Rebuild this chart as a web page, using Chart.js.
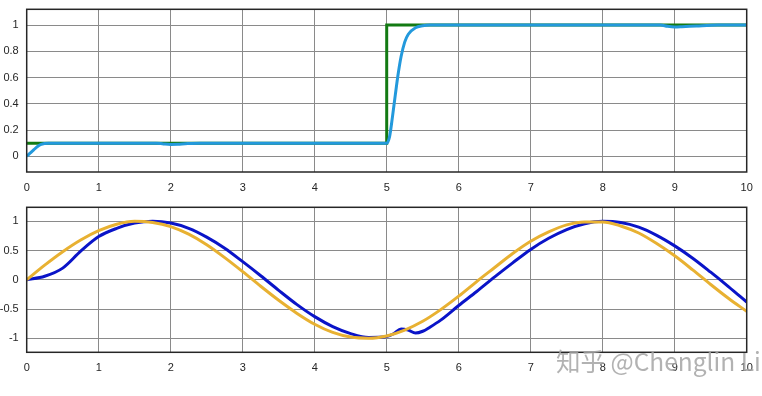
<!DOCTYPE html>
<html>
<head>
<meta charset="utf-8">
<script src="https://cdn.jsdelivr.net/npm/chart.js@4/dist/chart.umd.min.js"></script>
<style>
  body { margin: 0; background: #fff; width: 762px; height: 396px; overflow: hidden; position: relative; }
  .box { position: absolute; left: 0; width: 762px; }
  #watermark {
    position: absolute; left: 556px; top: 343px;
    font-family: "Noto Sans CJK SC", "Noto Sans", sans-serif; font-size: 24.5px;
    color: rgba(165, 165, 165, 0.85); white-space: nowrap;
  }
</style>
</head>
<body>
<div class="box" style="top:0;height:196px"><canvas id="topChart"></canvas></div>
<div class="box" style="top:196px;height:200px"><canvas id="bottomChart"></canvas></div>
<div id="watermark">知乎 @Chenglin Li</div>
<script>
// ---- top plot: step reference and response ----
const stepTime = [0, 5, 5, 10];
const stepValue = [0.1, 0.1, 1, 1];

const respTime = [0, 0.05, 0.1, 0.15, 0.2, 0.25, 0.3, 0.4,
    1.8, 1.9, 2.0, 2.1, 2.2, 2.4,
    4.95, 5.0, 5.04, 5.08, 5.12, 5.16, 5.2, 5.25, 5.3, 5.4, 5.5, 5.6, 5.8,
    8.8, 8.9, 9.0, 9.1, 9.3, 9.6, 10];
const respValue = [0, 0.025, 0.05, 0.074, 0.09, 0.097, 0.1, 0.1,
    0.1, 0.094, 0.09, 0.091, 0.095, 0.1,
    0.1, 0.1, 0.15, 0.3, 0.47, 0.63, 0.76, 0.87, 0.93, 0.98, 0.995, 1.0, 1.0,
    1.0, 0.99, 0.985, 0.987, 0.993, 1.0, 1.0];

// ---- bottom plot: sine reference and tracking ----
const sineTime = [0, 0.25, 0.5, 0.75, 1, 1.25, 1.5, 1.75, 2, 2.25, 2.5, 2.75, 3, 3.25, 3.5, 3.75,
    4, 4.25, 4.5, 4.75, 5, 5.25, 5.5, 5.75, 6, 6.25, 6.5, 6.75, 7, 7.25, 7.5, 7.75,
    8, 8.25, 8.5, 8.75, 9, 9.25, 9.5, 9.75, 10];
const sineValue = [0, 0.25, 0.48, 0.68, 0.84, 0.95, 1.0, 0.98, 0.91, 0.78, 0.6, 0.38, 0.14, -0.11, -0.35, -0.57,
    -0.76, -0.9, -0.98, -1.0, -0.96, -0.86, -0.71, -0.51, -0.28, -0.03, 0.21, 0.45, 0.66, 0.82, 0.94, 0.99,
    0.99, 0.92, 0.8, 0.62, 0.41, 0.17, -0.08, -0.32, -0.54];

const trackTime = [0, 0.25, 0.5, 0.75, 1, 1.25, 1.5, 1.75, 2, 2.25, 2.5, 2.75, 3, 3.25, 3.5, 3.75,
    4, 4.25, 4.5, 4.75, 5, 5.1, 5.2, 5.3, 5.4, 5.5, 5.6, 5.75, 6, 6.25, 6.5, 6.75, 7, 7.25, 7.5, 7.75,
    8, 8.25, 8.5, 8.75, 9, 9.25, 9.5, 9.75, 10];
const trackValue = [0, 0.06, 0.2, 0.49, 0.74, 0.88, 0.97, 1.0, 0.97, 0.88, 0.73, 0.54, 0.31, 0.07, -0.18, -0.42,
    -0.63, -0.8, -0.92, -0.985, -0.97, -0.92, -0.84, -0.86, -0.91, -0.88, -0.81, -0.69, -0.44, -0.2, 0.05, 0.29, 0.52, 0.71, 0.86, 0.96,
    1.0, 0.98, 0.9, 0.76, 0.58, 0.37, 0.13, -0.12, -0.38];

// tick labels
const xTicks = [0, 1, 2, 3, 4, 5, 6, 7, 8, 9, 10];
const topYTicks = [0, 0.2, 0.4, 0.6, 0.8, 1];
const bottomYTicks = [-1, -0.5, 0, 0.5, 1];

function toPoints(xs, ys) {
    return xs.map((x, i) => ({ x: x, y: ys[i] }));
}

// black frame round the plot area
const framePlugin = {
    id: "frame",
    afterDraw(chart) {
        const a = chart.chartArea;
        const ctx = chart.ctx;
        ctx.save();
        ctx.strokeStyle = "#262626";
        ctx.lineWidth = 1.5;
        ctx.strokeRect(a.left, a.top, a.right - a.left, a.bottom - a.top);
        ctx.restore();
    }
};

function makeOptions(yMin, yMax, yTicks, topPad, xHeight) {
    const font = { family: "'Liberation Sans', Arial, sans-serif", size: 11 };
    return {
        responsive: true,
        maintainAspectRatio: false,
        animation: false,
        layout: { padding: { top: topPad, right: 15.3, left: 0, bottom: 0 } },
        plugins: { legend: { display: false }, tooltip: { enabled: false } },
        elements: { point: { radius: 0 } },
        scales: {
            x: {
                type: "linear", min: 0, max: 10,
                afterBuildTicks: axis => { axis.ticks = xTicks.map(v => ({ value: v })); },
                afterFit: axis => {
                    axis.height = xHeight;
                    axis.paddingLeft = 0; axis.paddingRight = 0;
                },
                grid: { color: "#8a8a8a", lineWidth: 1, drawTicks: false },
                border: { display: false },
                ticks: { color: "#262626", font: font, padding: 9, maxRotation: 0, callback: v => String(v) }
            },
            y: {
                min: yMin, max: yMax,
                afterBuildTicks: axis => { axis.ticks = yTicks.map(v => ({ value: v })); },
                afterFit: axis => {
                    axis.width = 26.7;
                    axis.paddingTop = 0; axis.paddingBottom = 0;
                },
                grid: { color: "#8a8a8a", lineWidth: 1, drawTicks: false },
                border: { display: false },
                ticks: { color: "#262626", font: font, padding: 8, callback: v => String(v) }
            }
        }
    };
}

new Chart(document.getElementById("topChart"), {
    type: "line",
    data: {
        datasets: [
            {
                data: toPoints(respTime, respValue),
                borderColor: "#2399dc", borderWidth: 3,
                cubicInterpolationMode: "monotone"
            },
            {
                data: toPoints(stepTime, stepValue),
                borderColor: "#137a13", borderWidth: 3,
                tension: 0
            }
        ]
    },
    options: makeOptions(-0.12, 1.12, topYTicks, 9.3, 24),
    plugins: [framePlugin]
});

new Chart(document.getElementById("bottomChart"), {
    type: "line",
    data: {
        datasets: [
            {
                data: toPoints(sineTime, sineValue),
                borderColor: "#e8b132", borderWidth: 3,
                cubicInterpolationMode: "monotone"
            },
            {
                data: toPoints(trackTime, trackValue),
                borderColor: "#0a14c8", borderWidth: 3,
                cubicInterpolationMode: "monotone"
            }
        ]
    },
    options: makeOptions(-1.24, 1.24, bottomYTicks, 11.3, 43.7),
    plugins: [framePlugin]
});
</script>
</body>
</html>
